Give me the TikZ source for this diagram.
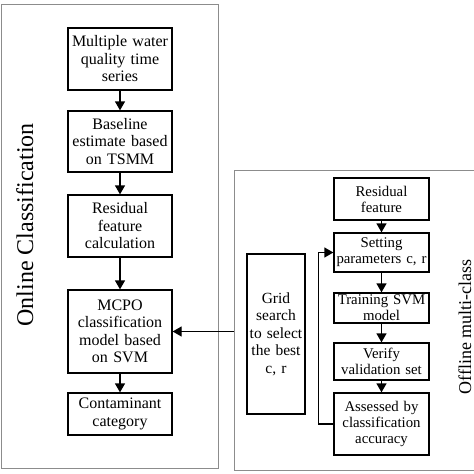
\documentclass[tikz,border=0pt]{standalone}
\usepackage{fontspec}
\setmainfont{Liberation Serif}
\usetikzlibrary{arrows.meta}
\tikzset{
  blk/.style={draw, line width=1.3pt, align=center, inner sep=0pt, text width=104pt, font=\fontsize{16}{17.5}\selectfont},
  rblk/.style={blk, text width=95pt, font=\fontsize{14.8}{16}\selectfont},
  frame/.style={draw=black!45, line width=1pt, inner sep=0pt},
  arr/.style={line width=1.3pt, -{Triangle[length=9pt,width=10pt]}}
}
\begin{document}
\begin{tikzpicture}[x=1pt,y=-1pt]
    \useasboundingbox (0,0) rectangle (474,474);
    \clip (0,0) rectangle (474,474);
    % outer frames
    \node[frame, minimum width=217pt, minimum height=463.5pt] (online) at (109.5,236.25) {};
    \node[frame, minimum width=260pt, minimum height=300pt] (offline) at (364,320) {};
    \node[rotate=90, anchor=base, inner sep=0pt, font=\fontsize{24}{28}\selectfont] (onlab) at (33,225) {Online Classification};
    \node[rotate=90, anchor=base, inner sep=0pt, font=\fontsize{18}{20}\selectfont] (offlab) at (471,327) {Offline multi-class};
    % online column
    \node[blk, minimum height=62pt] (inp) at (120,59) {Multiple water\\quality time\\series};
    \node[blk, minimum height=61pt] (base) at (120,141.5) {Baseline\\estimate based\\on TSMM};
    \node[blk, minimum height=62pt] (resid) at (120,226) {Residual\\feature\\calculation};
    \node[blk, minimum height=83pt] (mcpo) at (120,331.5) {MCPO\\classification\\model based\\on SVM};
    \node[blk, minimum height=42pt] (cat) at (120,414) {Contaminant\\category};
    % offline column
    \node[rblk, minimum height=42pt] (rfeat) at (381.5,199) {Residual\\feature};
    \node[rblk, minimum height=39pt] (setp) at (381.5,252.5) {Setting\\parameters c, r};
    \node[rblk, minimum height=30pt] (train) at (381.5,308) {Training SVM\\model};
    \node[rblk, minimum height=37pt] (verify) at (381.5,361.5) {Verify\\validation set};
    \node[rblk, minimum height=62pt] (assess) at (381.5,424) {Assessed by\\classification\\accuracy};
    \node[blk, text width=58pt, minimum height=160pt, font=\fontsize{15.5}{17.5}\selectfont] (grid) at (276,334) {Grid\\search\\to select\\the best\\c, r};
    % arrows
    \foreach \a/\b in {inp/base,base/resid,resid/mcpo,mcpo/cat,rfeat/setp,setp/train,train/verify,verify/assess} {
        \draw[arr] (\a) -- (\b);
    }
    \draw[arr] (assess.west) -- ++(-15,0) |- (setp.west);
    \draw[arr] (mcpo -| offline.west) -- (mcpo.east);
\end{tikzpicture}
\end{document}
